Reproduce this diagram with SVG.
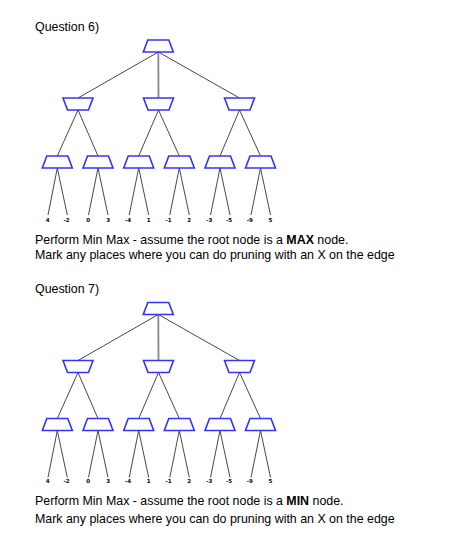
<svg xmlns="http://www.w3.org/2000/svg" width="459" height="554" viewBox="0 0 459 554">
<style>
.bg{fill:#fff}
.t{font-family:"Liberation Sans",Arial,sans-serif;font-size:12.4px;fill:#000}
.lf{font-family:"DejaVu Sans",Verdana,sans-serif;font-size:5.5px;font-weight:bold;fill:#000;text-anchor:end}
.n{fill:#fff;stroke:#3333ff;stroke-width:1.6;stroke-linejoin:miter}
.e{stroke:#333;stroke-width:0.9;fill:none}
.em{stroke:#888;stroke-width:1.8;fill:none}
</style>
<defs>
<polygon id="mx" points="-10.5,-6 10.5,-6 15,6 -15,6"/>
<polygon id="mn" points="-15,-6 15,-6 10.5,6 -10.5,6"/>
</defs>
<rect class="bg" width="459" height="554"/>

<g id="tree6">
<text class="t" x="35" y="30.5">Question 6)</text>
<g id="q6-edges">
<line class="e" x1="158.3" y1="52" x2="78" y2="98"/>
<line class="em" x1="158.3" y1="52" x2="158.5" y2="98"/>
<line class="e" x1="158.3" y1="52" x2="239.5" y2="98"/>
<line class="e" x1="78" y1="110" x2="57.3" y2="156"/>
<line class="e" x1="78" y1="110" x2="98" y2="156"/>
<line class="e" x1="158.5" y1="110" x2="138.7" y2="156"/>
<line class="e" x1="158.5" y1="110" x2="179.3" y2="156"/>
<line class="e" x1="239.5" y1="110" x2="220" y2="156"/>
<line class="e" x1="239.5" y1="110" x2="260.5" y2="156"/>
<line class="e" x1="57.3" y1="168" x2="48" y2="215"/>
<line class="e" x1="57.3" y1="168" x2="67.3" y2="215"/>
<line class="e" x1="98" y1="168" x2="88.5" y2="215"/>
<line class="e" x1="98" y1="168" x2="108" y2="215"/>
<line class="e" x1="138.7" y1="168" x2="129.2" y2="215"/>
<line class="e" x1="138.7" y1="168" x2="148.7" y2="215"/>
<line class="e" x1="179.3" y1="168" x2="169.8" y2="215"/>
<line class="e" x1="179.3" y1="168" x2="189.3" y2="215"/>
<line class="e" x1="220" y1="168" x2="210.5" y2="215"/>
<line class="e" x1="220" y1="168" x2="230" y2="215"/>
<line class="e" x1="260.5" y1="168" x2="251" y2="215"/>
<line class="e" x1="260.5" y1="168" x2="270.5" y2="215"/>
</g>
<g id="q6-root"><use href="#mx" class="n" x="158.3" y="46"/></g>
<g id="q6-a"><use href="#mn" class="n" x="78" y="104"/></g>
<g id="q6-b"><use href="#mn" class="n" x="158.5" y="104"/></g>
<g id="q6-c"><use href="#mn" class="n" x="239.5" y="104"/></g>
<g id="q6-a1"><use href="#mx" class="n" x="57.3" y="162"/></g>
<g id="q6-a2"><use href="#mx" class="n" x="98" y="162"/></g>
<g id="q6-b1"><use href="#mx" class="n" x="138.7" y="162"/></g>
<g id="q6-b2"><use href="#mx" class="n" x="179.3" y="162"/></g>
<g id="q6-c1"><use href="#mx" class="n" x="220" y="162"/></g>
<g id="q6-c2"><use href="#mx" class="n" x="260.5" y="162"/></g>
<g id="q6-leaves">
<text class="lf" x="49.5" y="222">4</text>
<text class="lf" x="69.5" y="222">-2</text>
<text class="lf" x="90" y="222">0</text>
<text class="lf" x="110" y="222">3</text>
<text class="lf" x="131" y="222">-4</text>
<text class="lf" x="150.5" y="222">1</text>
<text class="lf" x="171.5" y="222">-1</text>
<text class="lf" x="191" y="222">2</text>
<text class="lf" x="212.3" y="222">-3</text>
<text class="lf" x="232" y="222">-5</text>
<text class="lf" x="252.8" y="222">-9</text>
<text class="lf" x="272.3" y="222">5</text>
</g>
<text class="t" x="35" y="243.5">Perform Min Max - assume the root node is a <tspan font-weight="bold">MAX</tspan> node.</text>
<text class="t" x="35" y="258.5">Mark any places where you can do pruning with an X on the edge</text>
</g>

<g id="tree7" transform="translate(0,262.5)">
<text class="t" x="35" y="30">Question 7)</text>
<g id="q7-edges">
<line class="e" x1="158.3" y1="52" x2="78" y2="98"/>
<line class="em" x1="158.3" y1="52" x2="158.5" y2="98"/>
<line class="e" x1="158.3" y1="52" x2="239.5" y2="98"/>
<line class="e" x1="78" y1="110" x2="57.3" y2="156"/>
<line class="e" x1="78" y1="110" x2="98" y2="156"/>
<line class="e" x1="158.5" y1="110" x2="138.7" y2="156"/>
<line class="e" x1="158.5" y1="110" x2="179.3" y2="156"/>
<line class="e" x1="239.5" y1="110" x2="220" y2="156"/>
<line class="e" x1="239.5" y1="110" x2="260.5" y2="156"/>
<line class="e" x1="57.3" y1="168" x2="48" y2="215"/>
<line class="e" x1="57.3" y1="168" x2="67.3" y2="215"/>
<line class="e" x1="98" y1="168" x2="88.5" y2="215"/>
<line class="e" x1="98" y1="168" x2="108" y2="215"/>
<line class="e" x1="138.7" y1="168" x2="129.2" y2="215"/>
<line class="e" x1="138.7" y1="168" x2="148.7" y2="215"/>
<line class="e" x1="179.3" y1="168" x2="169.8" y2="215"/>
<line class="e" x1="179.3" y1="168" x2="189.3" y2="215"/>
<line class="e" x1="220" y1="168" x2="210.5" y2="215"/>
<line class="e" x1="220" y1="168" x2="230" y2="215"/>
<line class="e" x1="260.5" y1="168" x2="251" y2="215"/>
<line class="e" x1="260.5" y1="168" x2="270.5" y2="215"/>
</g>
<g id="q7-root"><use href="#mx" class="n" x="158.3" y="46"/></g>
<g id="q7-a"><use href="#mn" class="n" x="78" y="104"/></g>
<g id="q7-b"><use href="#mn" class="n" x="158.5" y="104"/></g>
<g id="q7-c"><use href="#mn" class="n" x="239.5" y="104"/></g>
<g id="q7-a1"><use href="#mx" class="n" x="57.3" y="162"/></g>
<g id="q7-a2"><use href="#mx" class="n" x="98" y="162"/></g>
<g id="q7-b1"><use href="#mx" class="n" x="138.7" y="162"/></g>
<g id="q7-b2"><use href="#mx" class="n" x="179.3" y="162"/></g>
<g id="q7-c1"><use href="#mx" class="n" x="220" y="162"/></g>
<g id="q7-c2"><use href="#mx" class="n" x="260.5" y="162"/></g>
<g id="q7-leaves">
<text class="lf" x="49.5" y="220.5">4</text>
<text class="lf" x="69.5" y="220.5">-2</text>
<text class="lf" x="90" y="220.5">0</text>
<text class="lf" x="110" y="220.5">3</text>
<text class="lf" x="131" y="220.5">-4</text>
<text class="lf" x="150.5" y="220.5">1</text>
<text class="lf" x="171.5" y="220.5">-1</text>
<text class="lf" x="191" y="220.5">2</text>
<text class="lf" x="212.3" y="220.5">-3</text>
<text class="lf" x="232" y="220.5">-5</text>
<text class="lf" x="252.8" y="220.5">-9</text>
<text class="lf" x="272.3" y="220.5">5</text>
</g>
<text class="t" x="35" y="242">Perform Min Max - assume the root node is a <tspan font-weight="bold">MIN</tspan> node.</text>
<text class="t" x="35" y="260">Mark any places where you can do pruning with an X on the edge</text>
</g>
</svg>
